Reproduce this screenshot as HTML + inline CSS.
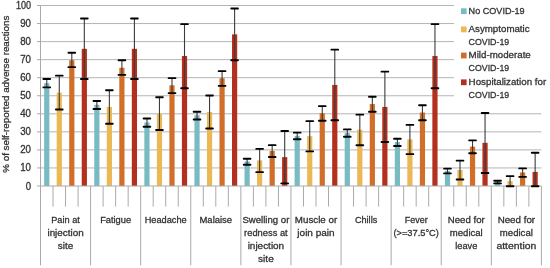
<!DOCTYPE html>
<html><head><meta charset="utf-8"><style>
html,body{margin:0;padding:0;background:#fff;width:550px;height:268px;overflow:hidden}
svg{display:block;font-family:"Liberation Sans",sans-serif;will-change:transform}
text{stroke:#333;stroke-width:0.3px}
</style></head><body>
<svg width="550" height="268" viewBox="0 0 550 268">
<rect width="550" height="268" fill="#fff"/>
<line x1="40.5" y1="167.95" x2="541.4" y2="167.95" stroke="#b4b4b4" stroke-width="1"/>
<line x1="40.5" y1="149.9" x2="541.4" y2="149.9" stroke="#b4b4b4" stroke-width="1"/>
<line x1="40.5" y1="131.85" x2="541.4" y2="131.85" stroke="#b4b4b4" stroke-width="1"/>
<line x1="40.5" y1="113.8" x2="541.4" y2="113.8" stroke="#b4b4b4" stroke-width="1"/>
<line x1="40.5" y1="95.75" x2="541.4" y2="95.75" stroke="#b4b4b4" stroke-width="1"/>
<line x1="40.5" y1="77.7" x2="541.4" y2="77.7" stroke="#b4b4b4" stroke-width="1"/>
<line x1="40.5" y1="59.65" x2="541.4" y2="59.65" stroke="#b4b4b4" stroke-width="1"/>
<line x1="40.5" y1="41.6" x2="541.4" y2="41.6" stroke="#b4b4b4" stroke-width="1"/>
<line x1="40.5" y1="23.55" x2="541.4" y2="23.55" stroke="#b4b4b4" stroke-width="1"/>
<line x1="40.5" y1="5.5" x2="541.4" y2="5.5" stroke="#b4b4b4" stroke-width="1"/>
<line x1="37" y1="186" x2="40.5" y2="186" stroke="#aaaaaa" stroke-width="1"/>
<line x1="37" y1="167.95" x2="40.5" y2="167.95" stroke="#aaaaaa" stroke-width="1"/>
<line x1="37" y1="149.9" x2="40.5" y2="149.9" stroke="#aaaaaa" stroke-width="1"/>
<line x1="37" y1="131.85" x2="40.5" y2="131.85" stroke="#aaaaaa" stroke-width="1"/>
<line x1="37" y1="113.8" x2="40.5" y2="113.8" stroke="#aaaaaa" stroke-width="1"/>
<line x1="37" y1="95.75" x2="40.5" y2="95.75" stroke="#aaaaaa" stroke-width="1"/>
<line x1="37" y1="77.7" x2="40.5" y2="77.7" stroke="#aaaaaa" stroke-width="1"/>
<line x1="37" y1="59.65" x2="40.5" y2="59.65" stroke="#aaaaaa" stroke-width="1"/>
<line x1="37" y1="41.6" x2="40.5" y2="41.6" stroke="#aaaaaa" stroke-width="1"/>
<line x1="37" y1="23.55" x2="40.5" y2="23.55" stroke="#aaaaaa" stroke-width="1"/>
<line x1="37" y1="5.5" x2="40.5" y2="5.5" stroke="#aaaaaa" stroke-width="1"/>
<rect x="44.16" y="83.12" width="5.2" height="102.88" fill="#78bbc3"/>
<rect x="56.68" y="92.68" width="5.2" height="93.32" fill="#ebb855"/>
<rect x="69.21" y="60.19" width="5.2" height="125.81" fill="#d16e2a"/>
<rect x="81.73" y="48.82" width="5.2" height="137.18" fill="#b2301d"/>
<rect x="94.25" y="104.78" width="5.2" height="81.22" fill="#78bbc3"/>
<rect x="106.77" y="106.94" width="5.2" height="79.06" fill="#ebb855"/>
<rect x="119.3" y="67.77" width="5.2" height="118.23" fill="#d16e2a"/>
<rect x="131.82" y="48.82" width="5.2" height="137.18" fill="#b2301d"/>
<rect x="144.34" y="122.46" width="5.2" height="63.54" fill="#78bbc3"/>
<rect x="156.86" y="113.8" width="5.2" height="72.2" fill="#ebb855"/>
<rect x="169.39" y="85.28" width="5.2" height="100.72" fill="#d16e2a"/>
<rect x="181.91" y="56.04" width="5.2" height="129.96" fill="#b2301d"/>
<rect x="194.43" y="115.24" width="5.2" height="70.76" fill="#78bbc3"/>
<rect x="206.95" y="112" width="5.2" height="74" fill="#ebb855"/>
<rect x="219.48" y="78.24" width="5.2" height="107.76" fill="#d16e2a"/>
<rect x="232" y="34.38" width="5.2" height="151.62" fill="#b2301d"/>
<rect x="244.52" y="161.45" width="5.2" height="24.55" fill="#78bbc3"/>
<rect x="257.04" y="160.37" width="5.2" height="25.63" fill="#ebb855"/>
<rect x="269.57" y="150.98" width="5.2" height="35.02" fill="#d16e2a"/>
<rect x="282.09" y="157.12" width="5.2" height="28.88" fill="#b2301d"/>
<rect x="294.61" y="135.82" width="5.2" height="50.18" fill="#78bbc3"/>
<rect x="307.13" y="136.18" width="5.2" height="49.82" fill="#ebb855"/>
<rect x="319.66" y="113.26" width="5.2" height="72.74" fill="#d16e2a"/>
<rect x="332.18" y="84.92" width="5.2" height="101.08" fill="#b2301d"/>
<rect x="344.7" y="132.93" width="5.2" height="53.07" fill="#78bbc3"/>
<rect x="357.22" y="129.68" width="5.2" height="56.32" fill="#ebb855"/>
<rect x="369.75" y="104.05" width="5.2" height="81.95" fill="#d16e2a"/>
<rect x="382.27" y="106.94" width="5.2" height="79.06" fill="#b2301d"/>
<rect x="394.79" y="142.14" width="5.2" height="43.86" fill="#78bbc3"/>
<rect x="407.31" y="139.43" width="5.2" height="46.57" fill="#ebb855"/>
<rect x="419.84" y="112.54" width="5.2" height="73.46" fill="#d16e2a"/>
<rect x="432.36" y="56.04" width="5.2" height="129.96" fill="#b2301d"/>
<rect x="444.88" y="170.84" width="5.2" height="15.16" fill="#78bbc3"/>
<rect x="457.4" y="169.94" width="5.2" height="16.06" fill="#ebb855"/>
<rect x="469.93" y="146.65" width="5.2" height="39.35" fill="#d16e2a"/>
<rect x="482.45" y="142.86" width="5.2" height="43.14" fill="#b2301d"/>
<rect x="494.97" y="181.85" width="5.2" height="4.15" fill="#78bbc3"/>
<rect x="507.49" y="181.13" width="5.2" height="4.87" fill="#ebb855"/>
<rect x="520.02" y="172.46" width="5.2" height="13.54" fill="#d16e2a"/>
<rect x="532.54" y="171.92" width="5.2" height="14.08" fill="#b2301d"/>
<line x1="40.5" y1="5.5" x2="40.5" y2="186" stroke="#aaaaaa" stroke-width="1"/>
<line x1="40.5" y1="186" x2="541.4" y2="186" stroke="#aaaaaa" stroke-width="1"/>
<line x1="53.02" y1="186" x2="53.02" y2="206.6" stroke="#aaaaaa" stroke-width="1"/>
<line x1="65.55" y1="186" x2="65.55" y2="206.6" stroke="#aaaaaa" stroke-width="1"/>
<line x1="78.07" y1="186" x2="78.07" y2="206.6" stroke="#aaaaaa" stroke-width="1"/>
<line x1="90.59" y1="186" x2="90.59" y2="265.3" stroke="#aaaaaa" stroke-width="1"/>
<line x1="103.11" y1="186" x2="103.11" y2="206.6" stroke="#aaaaaa" stroke-width="1"/>
<line x1="115.64" y1="186" x2="115.64" y2="206.6" stroke="#aaaaaa" stroke-width="1"/>
<line x1="128.16" y1="186" x2="128.16" y2="206.6" stroke="#aaaaaa" stroke-width="1"/>
<line x1="140.68" y1="186" x2="140.68" y2="265.3" stroke="#aaaaaa" stroke-width="1"/>
<line x1="153.2" y1="186" x2="153.2" y2="206.6" stroke="#aaaaaa" stroke-width="1"/>
<line x1="165.73" y1="186" x2="165.73" y2="206.6" stroke="#aaaaaa" stroke-width="1"/>
<line x1="178.25" y1="186" x2="178.25" y2="206.6" stroke="#aaaaaa" stroke-width="1"/>
<line x1="190.77" y1="186" x2="190.77" y2="265.3" stroke="#aaaaaa" stroke-width="1"/>
<line x1="203.29" y1="186" x2="203.29" y2="206.6" stroke="#aaaaaa" stroke-width="1"/>
<line x1="215.81" y1="186" x2="215.81" y2="206.6" stroke="#aaaaaa" stroke-width="1"/>
<line x1="228.34" y1="186" x2="228.34" y2="206.6" stroke="#aaaaaa" stroke-width="1"/>
<line x1="240.86" y1="186" x2="240.86" y2="265.3" stroke="#aaaaaa" stroke-width="1"/>
<line x1="253.38" y1="186" x2="253.38" y2="206.6" stroke="#aaaaaa" stroke-width="1"/>
<line x1="265.91" y1="186" x2="265.91" y2="206.6" stroke="#aaaaaa" stroke-width="1"/>
<line x1="278.43" y1="186" x2="278.43" y2="206.6" stroke="#aaaaaa" stroke-width="1"/>
<line x1="290.95" y1="186" x2="290.95" y2="265.3" stroke="#aaaaaa" stroke-width="1"/>
<line x1="303.47" y1="186" x2="303.47" y2="206.6" stroke="#aaaaaa" stroke-width="1"/>
<line x1="316" y1="186" x2="316" y2="206.6" stroke="#aaaaaa" stroke-width="1"/>
<line x1="328.52" y1="186" x2="328.52" y2="206.6" stroke="#aaaaaa" stroke-width="1"/>
<line x1="341.04" y1="186" x2="341.04" y2="265.3" stroke="#aaaaaa" stroke-width="1"/>
<line x1="353.56" y1="186" x2="353.56" y2="206.6" stroke="#aaaaaa" stroke-width="1"/>
<line x1="366.09" y1="186" x2="366.09" y2="206.6" stroke="#aaaaaa" stroke-width="1"/>
<line x1="378.61" y1="186" x2="378.61" y2="206.6" stroke="#aaaaaa" stroke-width="1"/>
<line x1="391.13" y1="186" x2="391.13" y2="265.3" stroke="#aaaaaa" stroke-width="1"/>
<line x1="403.65" y1="186" x2="403.65" y2="206.6" stroke="#aaaaaa" stroke-width="1"/>
<line x1="416.18" y1="186" x2="416.18" y2="206.6" stroke="#aaaaaa" stroke-width="1"/>
<line x1="428.7" y1="186" x2="428.7" y2="206.6" stroke="#aaaaaa" stroke-width="1"/>
<line x1="441.22" y1="186" x2="441.22" y2="265.3" stroke="#aaaaaa" stroke-width="1"/>
<line x1="453.74" y1="186" x2="453.74" y2="206.6" stroke="#aaaaaa" stroke-width="1"/>
<line x1="466.27" y1="186" x2="466.27" y2="206.6" stroke="#aaaaaa" stroke-width="1"/>
<line x1="478.79" y1="186" x2="478.79" y2="206.6" stroke="#aaaaaa" stroke-width="1"/>
<line x1="491.31" y1="186" x2="491.31" y2="265.3" stroke="#aaaaaa" stroke-width="1"/>
<line x1="503.83" y1="186" x2="503.83" y2="206.6" stroke="#aaaaaa" stroke-width="1"/>
<line x1="516.36" y1="186" x2="516.36" y2="206.6" stroke="#aaaaaa" stroke-width="1"/>
<line x1="528.88" y1="186" x2="528.88" y2="206.6" stroke="#aaaaaa" stroke-width="1"/>
<line x1="541.4" y1="186" x2="541.4" y2="265.3" stroke="#aaaaaa" stroke-width="1"/>
<line x1="40.5" y1="186" x2="40.5" y2="265.3" stroke="#aaaaaa" stroke-width="1"/>
<line x1="46.76" y1="78.78" x2="46.76" y2="87.09" stroke="#3c3c3c" stroke-width="1.1"/>
<rect x="42.46" y="78.08" width="8.6" height="1.9" rx="0.9" fill="#000"/>
<rect x="42.46" y="86.39" width="8.6" height="1.9" rx="0.9" fill="#000"/>
<line x1="59.28" y1="75.35" x2="59.28" y2="109.29" stroke="#3c3c3c" stroke-width="1.1"/>
<rect x="54.98" y="74.65" width="8.6" height="1.9" rx="0.9" fill="#000"/>
<rect x="54.98" y="108.59" width="8.6" height="1.9" rx="0.9" fill="#000"/>
<line x1="71.81" y1="52.43" x2="71.81" y2="66.87" stroke="#3c3c3c" stroke-width="1.1"/>
<rect x="67.51" y="51.73" width="8.6" height="1.9" rx="0.9" fill="#000"/>
<rect x="67.51" y="66.17" width="8.6" height="1.9" rx="0.9" fill="#000"/>
<line x1="84.33" y1="18.32" x2="84.33" y2="78.78" stroke="#3c3c3c" stroke-width="1.1"/>
<rect x="80.03" y="17.62" width="8.6" height="1.9" rx="0.9" fill="#000"/>
<rect x="80.03" y="78.08" width="8.6" height="1.9" rx="0.9" fill="#000"/>
<line x1="96.85" y1="100.8" x2="96.85" y2="108.75" stroke="#3c3c3c" stroke-width="1.1"/>
<rect x="92.55" y="100.1" width="8.6" height="1.9" rx="0.9" fill="#000"/>
<rect x="92.55" y="108.05" width="8.6" height="1.9" rx="0.9" fill="#000"/>
<line x1="109.37" y1="89.97" x2="109.37" y2="123.55" stroke="#3c3c3c" stroke-width="1.1"/>
<rect x="105.07" y="89.27" width="8.6" height="1.9" rx="0.9" fill="#000"/>
<rect x="105.07" y="122.85" width="8.6" height="1.9" rx="0.9" fill="#000"/>
<line x1="121.9" y1="60.01" x2="121.9" y2="74.63" stroke="#3c3c3c" stroke-width="1.1"/>
<rect x="117.6" y="59.31" width="8.6" height="1.9" rx="0.9" fill="#000"/>
<rect x="117.6" y="73.93" width="8.6" height="1.9" rx="0.9" fill="#000"/>
<line x1="134.42" y1="18.32" x2="134.42" y2="78.78" stroke="#3c3c3c" stroke-width="1.1"/>
<rect x="130.12" y="17.62" width="8.6" height="1.9" rx="0.9" fill="#000"/>
<rect x="130.12" y="78.08" width="8.6" height="1.9" rx="0.9" fill="#000"/>
<line x1="146.94" y1="118.31" x2="146.94" y2="126.44" stroke="#3c3c3c" stroke-width="1.1"/>
<rect x="142.64" y="117.61" width="8.6" height="1.9" rx="0.9" fill="#000"/>
<rect x="142.64" y="125.73" width="8.6" height="1.9" rx="0.9" fill="#000"/>
<line x1="159.46" y1="97.01" x2="159.46" y2="129.68" stroke="#3c3c3c" stroke-width="1.1"/>
<rect x="155.16" y="96.31" width="8.6" height="1.9" rx="0.9" fill="#000"/>
<rect x="155.16" y="128.98" width="8.6" height="1.9" rx="0.9" fill="#000"/>
<line x1="171.99" y1="77.88" x2="171.99" y2="92.86" stroke="#3c3c3c" stroke-width="1.1"/>
<rect x="167.69" y="77.18" width="8.6" height="1.9" rx="0.9" fill="#000"/>
<rect x="167.69" y="92.16" width="8.6" height="1.9" rx="0.9" fill="#000"/>
<line x1="184.51" y1="23.91" x2="184.51" y2="87.99" stroke="#3c3c3c" stroke-width="1.1"/>
<rect x="180.21" y="23.21" width="8.6" height="1.9" rx="0.9" fill="#000"/>
<rect x="180.21" y="87.29" width="8.6" height="1.9" rx="0.9" fill="#000"/>
<line x1="197.03" y1="111.45" x2="197.03" y2="119.22" stroke="#3c3c3c" stroke-width="1.1"/>
<rect x="192.73" y="110.75" width="8.6" height="1.9" rx="0.9" fill="#000"/>
<rect x="192.73" y="118.52" width="8.6" height="1.9" rx="0.9" fill="#000"/>
<line x1="209.55" y1="95.21" x2="209.55" y2="128.24" stroke="#3c3c3c" stroke-width="1.1"/>
<rect x="205.25" y="94.51" width="8.6" height="1.9" rx="0.9" fill="#000"/>
<rect x="205.25" y="127.54" width="8.6" height="1.9" rx="0.9" fill="#000"/>
<line x1="222.08" y1="70.84" x2="222.08" y2="85.64" stroke="#3c3c3c" stroke-width="1.1"/>
<rect x="217.78" y="70.14" width="8.6" height="1.9" rx="0.9" fill="#000"/>
<rect x="217.78" y="84.94" width="8.6" height="1.9" rx="0.9" fill="#000"/>
<line x1="234.6" y1="8.21" x2="234.6" y2="60.01" stroke="#3c3c3c" stroke-width="1.1"/>
<rect x="230.3" y="7.51" width="8.6" height="1.9" rx="0.9" fill="#000"/>
<rect x="230.3" y="59.31" width="8.6" height="1.9" rx="0.9" fill="#000"/>
<line x1="247.12" y1="158.56" x2="247.12" y2="164.52" stroke="#3c3c3c" stroke-width="1.1"/>
<rect x="242.82" y="157.86" width="8.6" height="1.9" rx="0.9" fill="#000"/>
<rect x="242.82" y="163.82" width="8.6" height="1.9" rx="0.9" fill="#000"/>
<line x1="259.64" y1="148.64" x2="259.64" y2="171.92" stroke="#3c3c3c" stroke-width="1.1"/>
<rect x="255.34" y="147.94" width="8.6" height="1.9" rx="0.9" fill="#000"/>
<rect x="255.34" y="171.22" width="8.6" height="1.9" rx="0.9" fill="#000"/>
<line x1="272.17" y1="144.85" x2="272.17" y2="156.76" stroke="#3c3c3c" stroke-width="1.1"/>
<rect x="267.87" y="144.15" width="8.6" height="1.9" rx="0.9" fill="#000"/>
<rect x="267.87" y="156.06" width="8.6" height="1.9" rx="0.9" fill="#000"/>
<line x1="284.69" y1="130.77" x2="284.69" y2="183.11" stroke="#3c3c3c" stroke-width="1.1"/>
<rect x="280.39" y="130.07" width="8.6" height="1.9" rx="0.9" fill="#000"/>
<rect x="280.39" y="182.41" width="8.6" height="1.9" rx="0.9" fill="#000"/>
<line x1="297.21" y1="132.39" x2="297.21" y2="139.07" stroke="#3c3c3c" stroke-width="1.1"/>
<rect x="292.91" y="131.69" width="8.6" height="1.9" rx="0.9" fill="#000"/>
<rect x="292.91" y="138.37" width="8.6" height="1.9" rx="0.9" fill="#000"/>
<line x1="309.73" y1="120.84" x2="309.73" y2="151.16" stroke="#3c3c3c" stroke-width="1.1"/>
<rect x="305.43" y="120.14" width="8.6" height="1.9" rx="0.9" fill="#000"/>
<rect x="305.43" y="150.46" width="8.6" height="1.9" rx="0.9" fill="#000"/>
<line x1="322.26" y1="105.86" x2="322.26" y2="120.48" stroke="#3c3c3c" stroke-width="1.1"/>
<rect x="317.96" y="105.16" width="8.6" height="1.9" rx="0.9" fill="#000"/>
<rect x="317.96" y="119.78" width="8.6" height="1.9" rx="0.9" fill="#000"/>
<line x1="334.78" y1="49.36" x2="334.78" y2="119.94" stroke="#3c3c3c" stroke-width="1.1"/>
<rect x="330.48" y="48.66" width="8.6" height="1.9" rx="0.9" fill="#000"/>
<rect x="330.48" y="119.24" width="8.6" height="1.9" rx="0.9" fill="#000"/>
<line x1="347.3" y1="129.14" x2="347.3" y2="136.54" stroke="#3c3c3c" stroke-width="1.1"/>
<rect x="343" y="128.44" width="8.6" height="1.9" rx="0.9" fill="#000"/>
<rect x="343" y="135.84" width="8.6" height="1.9" rx="0.9" fill="#000"/>
<line x1="359.82" y1="114.34" x2="359.82" y2="145.03" stroke="#3c3c3c" stroke-width="1.1"/>
<rect x="355.52" y="113.64" width="8.6" height="1.9" rx="0.9" fill="#000"/>
<rect x="355.52" y="144.33" width="8.6" height="1.9" rx="0.9" fill="#000"/>
<line x1="372.35" y1="96.47" x2="372.35" y2="111.45" stroke="#3c3c3c" stroke-width="1.1"/>
<rect x="368.05" y="95.77" width="8.6" height="1.9" rx="0.9" fill="#000"/>
<rect x="368.05" y="110.75" width="8.6" height="1.9" rx="0.9" fill="#000"/>
<line x1="384.87" y1="71.38" x2="384.87" y2="141.78" stroke="#3c3c3c" stroke-width="1.1"/>
<rect x="380.57" y="70.68" width="8.6" height="1.9" rx="0.9" fill="#000"/>
<rect x="380.57" y="141.08" width="8.6" height="1.9" rx="0.9" fill="#000"/>
<line x1="397.39" y1="138.53" x2="397.39" y2="145.75" stroke="#3c3c3c" stroke-width="1.1"/>
<rect x="393.09" y="137.83" width="8.6" height="1.9" rx="0.9" fill="#000"/>
<rect x="393.09" y="145.05" width="8.6" height="1.9" rx="0.9" fill="#000"/>
<line x1="409.91" y1="124.63" x2="409.91" y2="153.87" stroke="#3c3c3c" stroke-width="1.1"/>
<rect x="405.61" y="123.93" width="8.6" height="1.9" rx="0.9" fill="#000"/>
<rect x="405.61" y="153.17" width="8.6" height="1.9" rx="0.9" fill="#000"/>
<line x1="422.44" y1="104.96" x2="422.44" y2="119.94" stroke="#3c3c3c" stroke-width="1.1"/>
<rect x="418.14" y="104.26" width="8.6" height="1.9" rx="0.9" fill="#000"/>
<rect x="418.14" y="119.24" width="8.6" height="1.9" rx="0.9" fill="#000"/>
<line x1="434.96" y1="23.91" x2="434.96" y2="87.99" stroke="#3c3c3c" stroke-width="1.1"/>
<rect x="430.66" y="23.21" width="8.6" height="1.9" rx="0.9" fill="#000"/>
<rect x="430.66" y="87.29" width="8.6" height="1.9" rx="0.9" fill="#000"/>
<line x1="447.48" y1="168.4" x2="447.48" y2="173.09" stroke="#3c3c3c" stroke-width="1.1"/>
<rect x="443.18" y="167.7" width="8.6" height="1.9" rx="0.9" fill="#000"/>
<rect x="443.18" y="172.39" width="8.6" height="1.9" rx="0.9" fill="#000"/>
<line x1="460" y1="160.37" x2="460" y2="179.32" stroke="#3c3c3c" stroke-width="1.1"/>
<rect x="455.7" y="159.67" width="8.6" height="1.9" rx="0.9" fill="#000"/>
<rect x="455.7" y="178.62" width="8.6" height="1.9" rx="0.9" fill="#000"/>
<line x1="472.53" y1="140.15" x2="472.53" y2="152.97" stroke="#3c3c3c" stroke-width="1.1"/>
<rect x="468.23" y="139.45" width="8.6" height="1.9" rx="0.9" fill="#000"/>
<rect x="468.23" y="152.27" width="8.6" height="1.9" rx="0.9" fill="#000"/>
<line x1="485.05" y1="112.72" x2="485.05" y2="172.82" stroke="#3c3c3c" stroke-width="1.1"/>
<rect x="480.75" y="112.02" width="8.6" height="1.9" rx="0.9" fill="#000"/>
<rect x="480.75" y="172.12" width="8.6" height="1.9" rx="0.9" fill="#000"/>
<line x1="497.57" y1="180.49" x2="497.57" y2="183.11" stroke="#3c3c3c" stroke-width="1.1"/>
<rect x="493.27" y="179.79" width="8.6" height="1.9" rx="0.9" fill="#000"/>
<rect x="493.27" y="182.41" width="8.6" height="1.9" rx="0.9" fill="#000"/>
<line x1="510.09" y1="175.89" x2="510.09" y2="186" stroke="#3c3c3c" stroke-width="1.1"/>
<rect x="505.79" y="175.19" width="8.6" height="1.9" rx="0.9" fill="#000"/>
<rect x="505.79" y="185.3" width="8.6" height="1.9" rx="0.9" fill="#000"/>
<line x1="522.62" y1="168.13" x2="522.62" y2="176.61" stroke="#3c3c3c" stroke-width="1.1"/>
<rect x="518.32" y="167.43" width="8.6" height="1.9" rx="0.9" fill="#000"/>
<rect x="518.32" y="175.91" width="8.6" height="1.9" rx="0.9" fill="#000"/>
<line x1="535.14" y1="152.43" x2="535.14" y2="186" stroke="#3c3c3c" stroke-width="1.1"/>
<rect x="530.84" y="151.73" width="8.6" height="1.9" rx="0.9" fill="#000"/>
<rect x="530.84" y="185.3" width="8.6" height="1.9" rx="0.9" fill="#000"/>
<text x="31" y="189.5" text-anchor="end" font-size="10.2" textLength="5.3" lengthAdjust="spacingAndGlyphs" fill="#333333">0</text>
<text x="31" y="171.45" text-anchor="end" font-size="10.2" textLength="10.8" lengthAdjust="spacingAndGlyphs" fill="#333333">10</text>
<text x="31" y="153.4" text-anchor="end" font-size="10.2" textLength="10.8" lengthAdjust="spacingAndGlyphs" fill="#333333">20</text>
<text x="31" y="135.35" text-anchor="end" font-size="10.2" textLength="10.8" lengthAdjust="spacingAndGlyphs" fill="#333333">30</text>
<text x="31" y="117.3" text-anchor="end" font-size="10.2" textLength="10.8" lengthAdjust="spacingAndGlyphs" fill="#333333">40</text>
<text x="31" y="99.25" text-anchor="end" font-size="10.2" textLength="10.8" lengthAdjust="spacingAndGlyphs" fill="#333333">50</text>
<text x="31" y="81.2" text-anchor="end" font-size="10.2" textLength="10.8" lengthAdjust="spacingAndGlyphs" fill="#333333">60</text>
<text x="31" y="63.15" text-anchor="end" font-size="10.2" textLength="10.8" lengthAdjust="spacingAndGlyphs" fill="#333333">70</text>
<text x="31" y="45.1" text-anchor="end" font-size="10.2" textLength="10.8" lengthAdjust="spacingAndGlyphs" fill="#333333">80</text>
<text x="31" y="27.05" text-anchor="end" font-size="10.2" textLength="10.8" lengthAdjust="spacingAndGlyphs" fill="#333333">90</text>
<text x="31" y="9" text-anchor="end" font-size="10.2" textLength="15.1" lengthAdjust="spacingAndGlyphs" fill="#333333">100</text>
<text x="65.55" y="222.8" text-anchor="middle" font-size="9.5" textLength="28.7" lengthAdjust="spacingAndGlyphs" fill="#333333">Pain at</text>
<text x="65.55" y="235.75" text-anchor="middle" font-size="9.5" textLength="36.2" lengthAdjust="spacingAndGlyphs" fill="#333333">injection</text>
<text x="65.55" y="248.7" text-anchor="middle" font-size="9.5" textLength="15.4" lengthAdjust="spacingAndGlyphs" fill="#333333">site</text>
<text x="115.64" y="222.8" text-anchor="middle" font-size="9.5" textLength="31" lengthAdjust="spacingAndGlyphs" fill="#333333">Fatigue</text>
<text x="165.73" y="222.8" text-anchor="middle" font-size="9.5" textLength="42" lengthAdjust="spacingAndGlyphs" fill="#333333">Headache</text>
<text x="215.81" y="222.8" text-anchor="middle" font-size="9.5" textLength="32.7" lengthAdjust="spacingAndGlyphs" fill="#333333">Malaise</text>
<text x="265.91" y="222.8" text-anchor="middle" font-size="9.5" textLength="46.9" lengthAdjust="spacingAndGlyphs" fill="#333333">Swelling or</text>
<text x="265.91" y="235.75" text-anchor="middle" font-size="9.5" textLength="43.6" lengthAdjust="spacingAndGlyphs" fill="#333333">redness at</text>
<text x="265.91" y="248.7" text-anchor="middle" font-size="9.5" textLength="36.5" lengthAdjust="spacingAndGlyphs" fill="#333333">injection</text>
<text x="265.91" y="261.65" text-anchor="middle" font-size="9.5" textLength="15.7" lengthAdjust="spacingAndGlyphs" fill="#333333">site</text>
<text x="316" y="222.8" text-anchor="middle" font-size="9.5" textLength="42.3" lengthAdjust="spacingAndGlyphs" fill="#333333">Muscle or</text>
<text x="316" y="235.75" text-anchor="middle" font-size="9.5" textLength="37.3" lengthAdjust="spacingAndGlyphs" fill="#333333">join pain</text>
<text x="366.09" y="222.8" text-anchor="middle" font-size="9.5" textLength="22.4" lengthAdjust="spacingAndGlyphs" fill="#333333">Chills</text>
<text x="416.18" y="222.8" text-anchor="middle" font-size="9.5" textLength="23" lengthAdjust="spacingAndGlyphs" fill="#333333">Fever</text>
<text x="416.18" y="235.75" text-anchor="middle" font-size="9.5" textLength="45.4" lengthAdjust="spacingAndGlyphs" fill="#333333">(&gt;=37.5°C)</text>
<text x="466.27" y="222.8" text-anchor="middle" font-size="9.5" textLength="36.8" lengthAdjust="spacingAndGlyphs" fill="#333333">Need for</text>
<text x="466.27" y="235.75" text-anchor="middle" font-size="9.5" textLength="32.9" lengthAdjust="spacingAndGlyphs" fill="#333333">medical</text>
<text x="466.27" y="248.7" text-anchor="middle" font-size="9.5" textLength="22" lengthAdjust="spacingAndGlyphs" fill="#333333">leave</text>
<text x="516.36" y="222.8" text-anchor="middle" font-size="9.5" textLength="37.4" lengthAdjust="spacingAndGlyphs" fill="#333333">Need for</text>
<text x="516.36" y="235.75" text-anchor="middle" font-size="9.5" textLength="33" lengthAdjust="spacingAndGlyphs" fill="#333333">medical</text>
<text x="516.36" y="248.7" text-anchor="middle" font-size="9.5" textLength="39.8" lengthAdjust="spacingAndGlyphs" fill="#333333">attention</text>
<text transform="translate(9.4,94.2) rotate(-90)" text-anchor="middle" font-size="9.8" textLength="157" lengthAdjust="spacingAndGlyphs" fill="#333333">% of self-reported adverse reactions</text>
<rect x="454" y="2" width="96" height="100" fill="#fff"/>
<rect x="461" y="8.3" width="5.6" height="5.8" fill="#78bbc3"/>
<text x="468.6" y="14.2" font-size="9.7" textLength="56" lengthAdjust="spacingAndGlyphs" fill="#333333">No COVID-19</text>
<rect x="461" y="26.5" width="5.6" height="5.8" fill="#ebb855"/>
<text x="468.6" y="32.4" font-size="9.7" textLength="61" lengthAdjust="spacingAndGlyphs" fill="#333333">Asymptomatic</text>
<text x="468.6" y="44.9" font-size="9.7" textLength="40.6" lengthAdjust="spacingAndGlyphs" fill="#333333">COVID-19</text>
<rect x="461" y="52.6" width="5.6" height="5.8" fill="#d16e2a"/>
<text x="468.6" y="58.3" font-size="9.7" textLength="62.2" lengthAdjust="spacingAndGlyphs" fill="#333333">Mild-moderate</text>
<text x="468.6" y="71.1" font-size="9.7" textLength="40.6" lengthAdjust="spacingAndGlyphs" fill="#333333">COVID-19</text>
<rect x="461" y="79.4" width="5.6" height="5.8" fill="#b2301d"/>
<text x="468.6" y="85.2" font-size="9.7" textLength="77.6" lengthAdjust="spacingAndGlyphs" fill="#333333">Hospitalization for</text>
<text x="468.6" y="97.6" font-size="9.7" textLength="40.6" lengthAdjust="spacingAndGlyphs" fill="#333333">COVID-19</text>
</svg>
</body></html>
